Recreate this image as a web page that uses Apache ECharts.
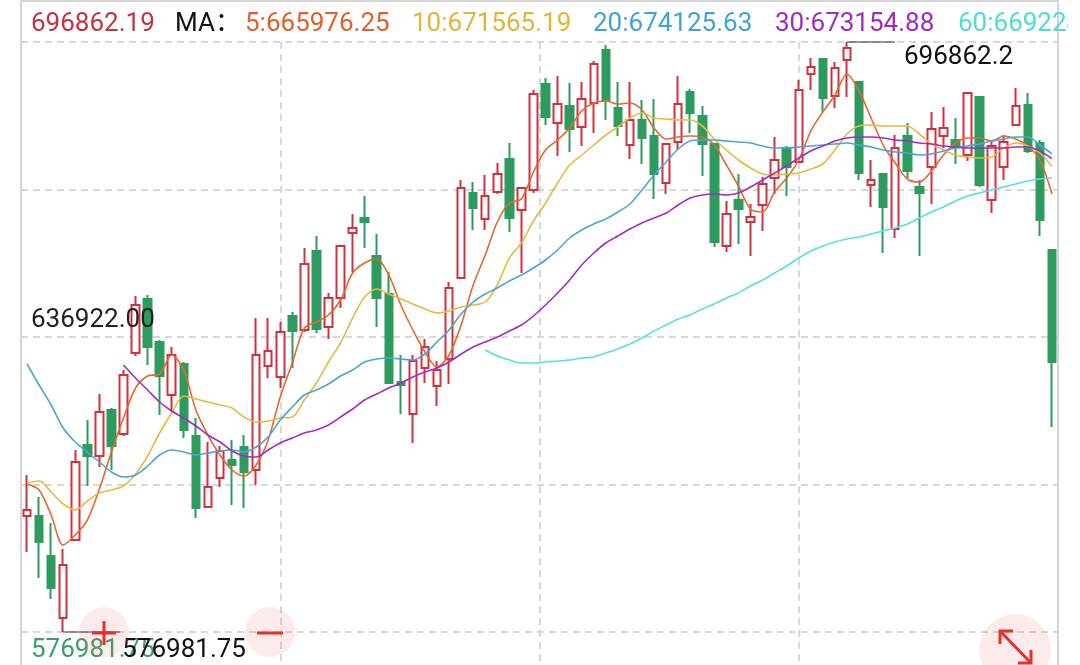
<!DOCTYPE html>
<html>
<head>
<meta charset="utf-8">
<style>
  html, body { margin: 0; padding: 0; background: #fff; }
  #chart { width: 1080px; height: 665px; }
</style>
<script src="https://cdn.jsdelivr.net/npm/echarts@6/dist/echarts.min.js"></script>
</head>
<body>
<div id="chart"></div>
<script>
// daily OHLC
const openPrices = [600550, 600550, 592423, 579824, 595673, 614976, 612742, 622088, 617211, 633670,
  644642, 635905, 625136, 631435, 616805, 602379, 608271, 611929, 614570, 609897,
  631029, 628794, 641188, 638343, 654396, 638953, 644845, 658052, 661100, 653380,
  645658, 627778, 621275, 630622, 626965, 632451, 648909, 666180, 660897, 666384,
  673089, 662726, 666790, 688328, 680403, 683858, 679591, 684467, 695236, 683451,
  675933, 681013, 677762, 668212, 676543, 686703, 681826, 676136, 655411, 664758,
  660288, 663742, 669228, 675323, 672480, 690360, 693407, 685890, 693205, 688735,
  667806, 670041, 658865, 677762, 667400, 671464, 677762, 676949, 673902, 685687,
  664758, 671464, 679997, 684061, 676339, 654599];
const closePrices = [601769, 595267, 585920, 590594, 611523, 612742, 621682, 614773, 629200, 643423,
  634889, 628997, 633264, 618024, 602175, 606443, 613758, 610913, 609491, 633264,
  634077, 637937, 638140, 651754, 638546, 644845, 655411, 659068, 660288, 644845,
  627574, 627168, 632045, 634889, 630216, 646877, 667196, 663132, 665571, 670041,
  661100, 667196, 686296, 681623, 684264, 679184, 685280, 692392, 685077, 679794,
  681013, 677355, 670041, 676136, 684264, 682435, 676136, 656224, 661913, 662929,
  661304, 668009, 672886, 671464, 687109, 691783, 685483, 691579, 695642, 670244,
  668822, 663336, 675323, 670651, 666180, 679184, 679387, 675527, 686499, 667806,
  675730, 676543, 683858, 674715, 660694, 631842];
const lowPrices = [593236, 587952, 583685, 576981.75, 595500, 606646, 610507, 609897, 616805, 633061,
  631232, 621072, 621682, 616398, 600143, 602175, 606443, 602785, 602175, 606849,
  628590, 626558, 630622, 637937, 637733, 636514, 642813, 650129, 655004, 638953,
  627371, 621275, 615382, 627574, 622901, 627371, 648706, 658662, 658662, 665977,
  658256, 649925, 666180, 679997, 673699, 674512, 675730, 678371, 681013, 677762,
  673089, 672073, 664961, 665977, 674918, 678371, 669635, 655208, 654193, 655817,
  653380, 658459, 665977, 665571, 672276, 687109, 682639, 683451, 685687, 668822,
  663336, 653989, 657036, 669228, 653380, 663945, 675323, 672073, 672683, 667400,
  662116, 668822, 679794, 674308, 657443, 618634];
const highPrices = [608881, 604411, 599127, 593844, 613961, 620056, 625339, 622494, 630216, 645252,
  645455, 636311, 634889, 631842, 620462, 615586, 614773, 615992, 617008, 640781,
  640781, 639969, 642001, 655004, 657443, 645861, 655411, 661913, 665571, 657849,
  650129, 633264, 633264, 636514, 632045, 648097, 668822, 668416, 669838, 672276,
  676339, 667400, 687109, 689547, 689954, 688531, 688735, 693002, 696252, 688735,
  688735, 685077, 685280, 676339, 689954, 687312, 683858, 676300, 664555, 670041,
  663945, 669432, 677559, 675730, 689141, 693610, 693407, 692799, 696862.2, 688800,
  672886, 670244, 677965, 680403, 668822, 682639, 683655, 681419, 686600, 685890,
  676949, 677965, 687515, 686499, 676949, 654802];

// moving averages as drawn (the window starts mid-history, so they are read, not computed)
const ma5 = [607052, 605833, 600753, 594657, 596689, 599737, 606036, 613555, 620462, 626558,
  628997, 629403, 633264, 630216, 622088, 617008, 612945, 609897, 608678, 610913,
  615992, 624730, 631638, 638749, 639969, 641391, 644439, 649925, 651957, 652770,
  649519, 643423, 638343, 633874, 630826, 633264, 639359, 647487, 653583, 660288,
  664148, 664961, 670448, 674918, 676949, 679387, 682842, 684467, 684874, 684264,
  684467, 683045, 679387, 677152, 677559, 677762, 677559, 675933, 671870, 667603,
  662929, 662320, 666384, 669228, 672886, 678778, 682639, 686093, 690360, 686906,
  681419, 675933, 672276, 669025, 668416, 670651, 673902, 676339, 677355, 677355,
  676746, 677762, 677152, 675730, 672886, 665976.25];
const ma10 = [607255, 607662, 605427, 602988, 601769, 603598, 605223, 605833, 606646, 609084,
  612742, 617414, 621478, 624933, 624323, 623714, 623104, 622494, 620666, 619650,
  619853, 620462, 620666, 624120, 627574, 631842, 635701, 640781, 645048, 646674,
  645658, 644642, 643626, 642610, 641797, 642204, 643016, 643423, 644033, 647487,
  652973, 656021, 660491, 664148, 668212, 671870, 673902, 675933, 677965, 679591,
  681419, 682435, 681419, 681216, 681013, 681013, 679794, 677152, 674918, 672886,
  671261, 670041, 669838, 670041, 670244, 671057, 672073, 674918, 678168, 679794,
  679997, 679794, 679794, 679794, 678168, 676136, 674918, 673902, 673496, 673292,
  673496, 675323, 676339, 675730, 674308, 671565.19];
const ma20 = [631435, 627168, 623104, 618430, 615586, 613555, 611523, 609491, 608475, 608881,
  610710, 612945, 613961, 613555, 612945, 613351, 613758, 613961, 613555, 614570,
  616602, 620056, 622697, 625136, 626152, 627371, 628997, 630216, 631842, 632451,
  632654, 632451, 632248, 633467, 635905, 638343, 641594, 644033, 645658, 646877,
  648300, 649519, 650941, 652567, 654599, 657036, 658662, 659881, 660897, 662320,
  663945, 666790, 669838, 672480, 675120, 676746, 676949, 676949, 676746, 676543,
  676339, 675730, 675323, 675323, 675527, 675730, 675933, 676136, 676339, 675933,
  675527, 674918, 674512, 674308, 673902, 674105, 674715, 675323, 675730, 676136,
  676746, 677152, 677559, 677559, 675933, 674125.63];
const ma30 = [null, null, null, null, null, null, null, null, 631232, 628590,
  626152, 623714, 621885, 620462, 618837, 617008, 615586, 613758, 612742, 612539,
  613961, 615382, 616398, 617414, 618024, 619040, 620666, 622291, 624120, 625339,
  626558, 627574, 628794, 629810, 630622, 631842, 633467, 634889, 635905, 636921,
  638140, 639359, 641188, 643423, 645861, 648503, 651551, 653989, 656021, 657443,
  658865, 660085, 661100, 662116, 663742, 665165, 665774, 665977, 665774, 666180,
  667400, 668822, 670244, 671667, 673292, 674715, 675730, 676746, 677355, 677559,
  677559, 677355, 676949, 676746, 676339, 676136, 675730, 675527, 675323, 675323,
  675323, 675323, 675527, 675527, 674715, 673154.88];
const ma60 = [null, null, null, null, null, null, null, null, null, null,
  null, null, null, null, null, null, null, null, null, null,
  null, null, null, null, null, null, null, null, null, null,
  null, null, null, null, null, null, null, null, 634280, 633061,
  632248, 631638, 631638, 631842, 632045, 632248, 632654, 632857, 633670, 634483,
  635498, 636717, 638140, 639359, 640578, 641391, 642610, 643626, 644845, 645861,
  647284, 648503, 649925, 651348, 652973, 654396, 655411, 656224, 656833, 657240,
  657849, 658459, 659068, 659881, 661100, 662320, 663336, 664555, 665571, 666180,
  666790, 667400, 668009, 668619, 669025, 669224.37];

const maPeriods = [5, 10, 20, 30, 60];
const maSeries = [ma5, ma10, ma20, ma30, ma60];

// y axis: ends and the three labels the app prints
const yMin = 576981.75;
const yMax = 696862.19;
const yTickLabels = ['576981.75', '', '636922.00', '', '696862.19'];

const RED = '#CE3140';
const GREEN = '#2E9B5E';
const maLineColors = ['#E4672F', '#E6BA3F', '#4AA6D4', '#A52CC0', '#55E2DA'];
const maTextColors = ['#E0602C', '#E2B43A', '#3FA3D3', '#A12BBD', '#4FDCD3'];
const FONT = 'Roboto, "Noto Sans CJK SC", sans-serif';

const candleData = openPrices.map((o, i) => [o, closePrices[i], lowPrices[i], highPrices[i]]);
const categories = openPrices.map((_, i) => String(i + 1));

const chart = echarts.init(document.getElementById('chart'));

const dashed = { color: '#CBCBCB', width: 1.5, type: [7, 5] };
const priceAxis = {
  type: 'value',
  gridIndex: 0,
  position: 'left',
  min: yMin,
  max: yMax,
  interval: (yMax - yMin) / 4,
  axisLine: { show: false },
  axisTick: { show: false }
};

chart.setOption({
  animation: false,
  backgroundColor: '#fff',
  grid: [
    { left: 21, right: 22, top: 42, bottom: 33 },
    { left: 21, right: 22, top: 42, height: 660 }
  ],
  xAxis: [
    {
      type: 'category',
      data: categories,
      boundaryGap: true,
      axisLine: { show: false },
      axisTick: { show: false },
      axisLabel: { show: false },
      splitLine: { show: false }
    },
    {
      type: 'value',
      gridIndex: 1,
      min: 0,
      max: 4,
      interval: 1,
      axisLine: { show: false },
      axisTick: { show: false },
      axisLabel: { show: false },
      splitLine: { show: true, lineStyle: dashed }
    }
  ],
  yAxis: [
    // grid lines, under the candles
    Object.assign({}, priceAxis, {
      axisLabel: { show: false },
      splitLine: { show: true, lineStyle: dashed }
    }),
    { type: 'value', gridIndex: 1, show: false },
    // price labels, drawn over the candles
    Object.assign({}, priceAxis, {
      z: 10,
      splitLine: { show: false },
      axisLabel: {
        inside: true,
        margin: 10,
        showMinLabel: true,
        showMaxLabel: true,
        formatter: (v, i) => {
          const t = yTickLabels[i];
          if (!t) return '';
          if (i === 4) return '{top|' + t + '}';
          if (i === 0) return '{bot|' + t + '}';
          return '{mid|' + t + '}';
        },
        rich: {
          top: { color: '#C4323F', fontSize: 26, fontFamily: FONT, padding: [0, 0, 36, 0] },
          mid: { color: '#222', fontSize: 26, fontFamily: FONT, padding: [0, 0, 34, 0] },
          bot: { color: '#3E9B6B', fontSize: 26, fontFamily: FONT, padding: [36, 0, 0, 0] }
        }
      }
    })
  ],
  series: [
    {
      name: 'K',
      type: 'candlestick',
      data: candleData,
      barWidth: 8,
      itemStyle: {
        color: '#fff',
        color0: GREEN,
        borderColor: RED,
        borderColor0: GREEN,
        borderWidth: 2
      },
      z: 2
    },
    ...maSeries.map((d, k) => ({
      name: 'MA' + maPeriods[k],
      type: 'line',
      data: d,
      showSymbol: false,
      smooth: 0.3,
      lineStyle: { width: 1.6, color: maLineColors[k] },
      z: 3
    }))
  ]
});

// overlays: header, frame, min/max markers, app buttons
const graphics = [];

graphics.push({
  type: 'rect', silent: true, z: 50,
  shape: { x: 21, y: 1, width: 1037, height: 700 },
  style: { fill: 'none', stroke: '#D5D5D5', lineWidth: 2 }
});

const headerX = [245, 412, 593, 775, 958];
graphics.push({
  type: 'text', z: 60, x: 175, y: 24,
  style: { text: 'MA：', fill: '#111', font: '26px ' + FONT, verticalAlign: 'middle' }
});
maSeries.forEach((d, k) => {
  graphics.push({
    type: 'text', z: 60, x: headerX[k], y: 24,
    style: {
      text: maPeriods[k] + ':' + d[d.length - 1].toFixed(2),
      fill: maTextColors[k], font: '26px ' + FONT, verticalAlign: 'middle'
    }
  });
});
// the phone screen cuts the last header entry
graphics.push({
  type: 'rect', z: 70, silent: true,
  shape: { x: 1068, y: 0, width: 12, height: 40 },
  style: { fill: '#fff' }
});

const iMax = highPrices.indexOf(Math.max(...highPrices));
const iMin = lowPrices.indexOf(Math.min(...lowPrices));
const pMax = chart.convertToPixel({ seriesIndex: 0 }, [iMax, highPrices[iMax]]);
const pMin = chart.convertToPixel({ seriesIndex: 0 }, [iMin, lowPrices[iMin]]);

graphics.push({
  type: 'line', z: 80, silent: true,
  shape: { x1: pMax[0], y1: pMax[1], x2: pMax[0] + 48, y2: pMax[1] },
  style: { stroke: '#333', lineWidth: 1 }
});
graphics.push({
  type: 'text', z: 80, x: pMax[0] + 57, y: pMax[1] + 16,
  style: { text: String(highPrices[iMax]), fill: '#111', font: '26px ' + FONT, verticalAlign: 'middle' }
});
graphics.push({
  type: 'line', z: 80, silent: true,
  shape: { x1: pMin[0], y1: pMin[1], x2: pMin[0] + 57, y2: pMin[1] },
  style: { stroke: '#333', lineWidth: 1 }
});
graphics.push({
  type: 'text', z: 80, x: pMin[0] + 59, y: pMin[1] + 18,
  style: { text: String(lowPrices[iMin]), fill: '#111', font: '26px ' + FONT, verticalAlign: 'middle' }
});

// zoom in / zoom out / fullscreen buttons
const BTN_FILL = 'rgba(240, 90, 90, 0.12)';
const BTN_RED = '#E5302C';
graphics.push({ type: 'circle', z: 90, silent: true, shape: { cx: 104, cy: 632, r: 25 }, style: { fill: BTN_FILL } });
graphics.push({ type: 'line', z: 91, silent: true, shape: { x1: 92, y1: 633, x2: 116, y2: 633 }, style: { stroke: BTN_RED, lineWidth: 3 } });
graphics.push({ type: 'line', z: 91, silent: true, shape: { x1: 104, y1: 621, x2: 104, y2: 645 }, style: { stroke: BTN_RED, lineWidth: 3 } });
graphics.push({ type: 'circle', z: 90, silent: true, shape: { cx: 270, cy: 632, r: 25 }, style: { fill: BTN_FILL } });
graphics.push({ type: 'line', z: 91, silent: true, shape: { x1: 257, y1: 633, x2: 283, y2: 633 }, style: { stroke: BTN_RED, lineWidth: 3 } });
graphics.push({ type: 'circle', z: 90, silent: true, shape: { cx: 1015, cy: 650, r: 36 }, style: { fill: BTN_FILL } });
graphics.push({
  type: 'polyline', z: 91, silent: true,
  shape: { points: [[1013, 631], [1000, 631], [1000, 644]] },
  style: { stroke: BTN_RED, lineWidth: 3, fill: 'none' }
});
graphics.push({ type: 'line', z: 91, silent: true, shape: { x1: 1000, y1: 631, x2: 1031, y2: 663 }, style: { stroke: BTN_RED, lineWidth: 3 } });
graphics.push({
  type: 'polyline', z: 91, silent: true,
  shape: { points: [[1018, 663], [1031, 663], [1031, 650]] },
  style: { stroke: BTN_RED, lineWidth: 3, fill: 'none' }
});

chart.setOption({ graphic: graphics });
</script>
</body>
</html>
